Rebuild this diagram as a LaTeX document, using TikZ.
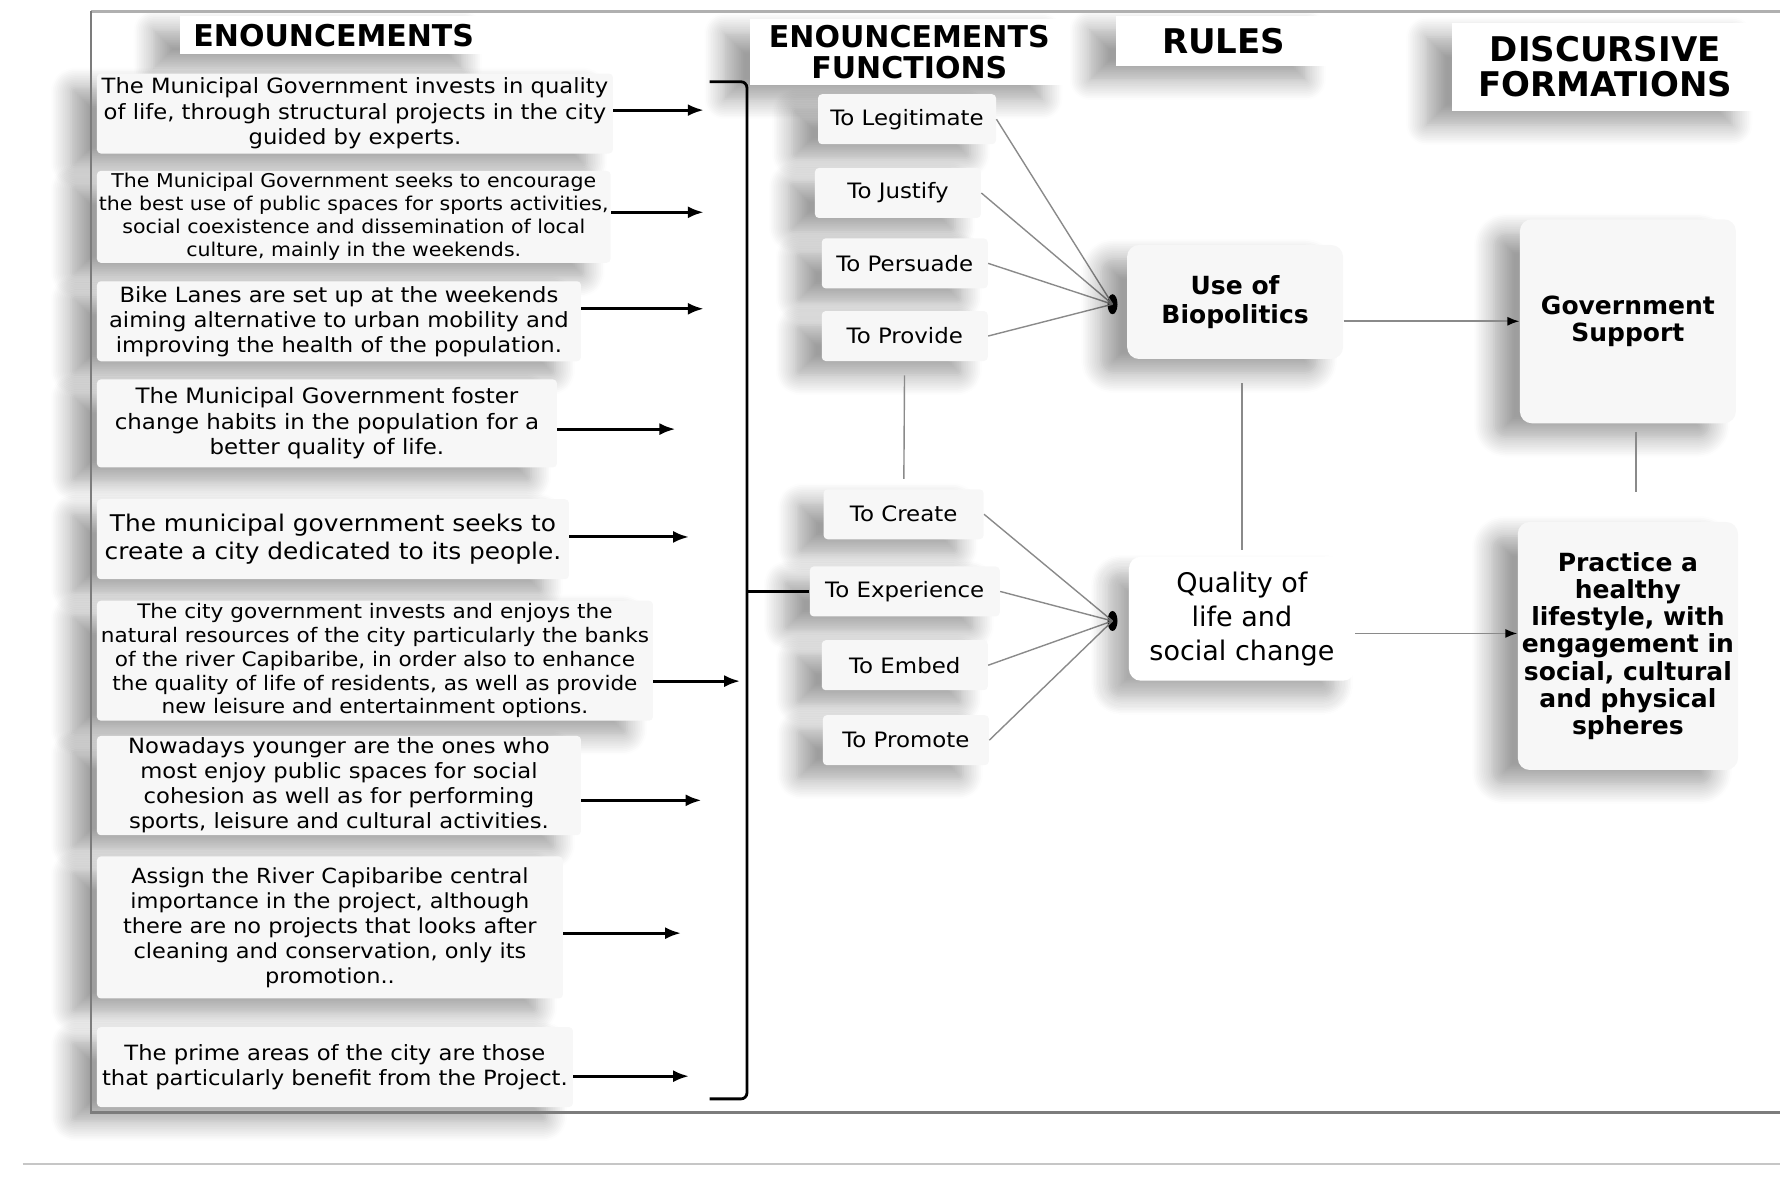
\documentclass[tikz,border=0pt]{standalone}
\usepackage{fontspec}
\setmainfont{DejaVu Sans}
\newfontfamily\enfont{DejaVu Sans}[FakeStretch=1.08]
\usetikzlibrary{positioning,arrows.meta,shadows.blur,shapes.geometric}
\definecolor{boxfill}{HTML}{F7F7F7}
\definecolor{linkgray}{HTML}{8A8A8A}
\definecolor{framegray}{HTML}{7C7C7C}
\tikzset{
  softshadow/.style={blur shadow={shadow xshift=-13pt,shadow yshift=-7pt,shadow blur radius=10pt,shadow blur steps=12,shadow opacity=38}},
  enbox/.style={fill=boxfill,rounded corners=2pt,inner sep=1pt,align=center,anchor=west,softshadow},
  headbox/.style={fill=white,inner sep=1pt,align=center,softshadow},
  funbox/.style={fill=boxfill,rounded corners=2pt,inner sep=1pt,minimum width=83pt,minimum height=25pt,
    font=\enfont\fontsize{10.6}{12}\selectfont,softshadow},
  rulebox/.style={fill=boxfill,rounded corners=6pt,inner sep=2pt,align=center,softshadow},
  hub/.style={ellipse,fill=black,inner sep=0pt,minimum width=5pt,minimum height=10pt},
  feed/.style={-{Latex[length=8pt,width=6pt]},line width=1.5pt},
  link/.style={linkgray,line width=0.7pt},
  flow/.style={linkgray,line width=0.9pt,-{Latex[black,length=6pt,width=4.5pt]}},
  brace/.style={line width=1.4pt,rounded corners=3pt},
}
\begin{document}
\begin{tikzpicture}[x=0.5675pt,y=-0.5675pt]
\useasboundingbox (0,0) rectangle (1568,1036);

% headers
\node[headbox,minimum width=154pt,minimum height=19pt,font=\fontsize{15}{16}\selectfont\bfseries] (hEn) at (294,31) {ENOUNCEMENTS};
\node[headbox,minimum width=159pt,minimum height=33pt,font=\fontsize{15}{15.3}\selectfont\bfseries] (hFun) at (801,46) {ENOUNCEMENTS\\FUNCTIONS};
\node[headbox,minimum width=108pt,minimum height=25pt,font=\fontsize{17}{18}\selectfont\bfseries] (hRul) at (1078,36) {RULES};
\node[headbox,minimum width=153pt,minimum height=44pt,font=\fontsize{17}{17.6}\selectfont\bfseries] (hDis) at (1414,59) {DISCURSIVE\\FORMATIONS};

% enouncements
\node[enbox,minimum width=258pt,minimum height=40pt,font=\enfont\fontsize{10.5}{12.8}\selectfont] (e1) at (85,100)
  {The Municipal Government invests in quality\\of life, through structural projects in the city\\guided by experts.};
\node[enbox,minimum width=256pt,minimum height=46pt,font=\enfont\fontsize{9.5}{11.5}\selectfont] (e2) at (85,191)
  {The Municipal Government seeks to encourage\\the best use of public spaces for sports activities,\\social coexistence and dissemination of local\\culture, mainly in the weekends.};
\node[enbox,minimum width=242pt,minimum height=40pt,font=\enfont\fontsize{10.5}{12.5}\selectfont] (e3) at (85,283)
  {Bike Lanes are set up at the weekends\\aiming alternative to urban mobility and\\improving the health of the population.};
\node[enbox,minimum width=230pt,minimum height=44pt,font=\enfont\fontsize{10.6}{12.8}\selectfont] (e4) at (85,373)
  {The Municipal Government foster\\change habits in the population for a\\better quality of life.};
\node[enbox,minimum width=236pt,minimum height=40pt,font=\enfont\fontsize{11.5}{13.6}\selectfont] (e5) at (85,475)
  {The municipal government seeks to\\create a city dedicated to its people.};
\node[enbox,minimum width=278pt,minimum height=60pt,font=\enfont\fontsize{10}{11.9}\selectfont] (e6) at (85,582)
  {The city government invests and enjoys the\\natural resources of the city particularly the banks\\of the river Capibaribe, in order also to enhance\\the quality of life of residents, as well as provide\\new leisure and entertainment options.};
\node[enbox,minimum width=242pt,minimum height=48pt,font=\enfont\fontsize{10.5}{12.5}\selectfont] (e7) at (85,692)
  {Nowadays younger are the ones who\\most enjoy public spaces for social\\cohesion as well as for performing\\sports, leisure and cultural activities.};
\node[enbox,minimum width=233pt,minimum height=71pt,font=\enfont\fontsize{10.4}{12.5}\selectfont] (e8) at (85,817)
  {Assign the River Capibaribe central\\importance in the project, although\\there are no projects that looks after\\cleaning and conservation, only its\\promotion..};
\node[enbox,minimum width=238pt,minimum height=40pt,font=\enfont\fontsize{10.5}{12.5}\selectfont] (e9) at (85,940)
  {The prime areas of the city are those\\that particularly benefit from the Project.};

% arrow ends at the bracket
\coordinate (b1) at (620,97);
\coordinate (b2) at (620,187);
\coordinate (b3) at (620,272);
\coordinate (b4) at (595,378);
\coordinate (b5) at (607,473);
\coordinate (b6) at (652,600);
\coordinate (b7) at (618,705);
\coordinate (b8) at (600,822);
\coordinate (b9) at (607,948);
\foreach \i in {1,...,9}
  \draw[feed] (e\i.east |- b\i) -- (b\i);

% functions
\node[funbox,minimum width=89pt] (leg) at (799,105) {To Legitimate};
\node[funbox] (jus) at (791,170) {To Justify};
\node[funbox] (per) at (797,232) {To Persuade};
\node[funbox] (pro) at (797,296) {To Provide};
\node[funbox,minimum width=80pt] (cre) at (796,453) {To Create};
\node[funbox,minimum width=95pt] (exp) at (797,521) {To Experience};
\node[funbox] (emb) at (797,586) {To Embed};
\node[funbox] (prm) at (798,652) {To Promote};

% bracket
\draw[brace] (625,72) -- (658,72) -- (658,968) -- (625,968);
\draw[brace] (658,521) -- (exp.west);

% hubs
\node[hub] (d1) at (980,268) {};
\node[hub] (d2) at (980,547) {};
\foreach \f in {leg,jus,per,pro}
  \draw[link] (\f.east) -- (d1.center);
\foreach \f in {cre,exp,emb,prm}
  \draw[link] (\f.east) -- (d2.center);
\draw[link,shorten <=7pt,shorten >=5pt] (pro) -- (cre);

% rules
\node[rulebox,minimum width=108pt,minimum height=57pt,font=\fontsize{12.5}{14.2}\selectfont\bfseries] (bio) at (1088,266) {Use of\\Biopolitics};
\node[rulebox,minimum width=113pt,minimum height=62pt,fill=white,
  blur shadow={shadow xshift=-10pt,shadow yshift=-8pt,shadow blur radius=9pt,shadow opacity=18},
  font=\fontsize{13.5}{17}\selectfont] (qual) at (1094,545) {Quality of\\life and\\social change};
\draw[link,shorten <=12pt,shorten >=3pt] (qual.north |- bio.south) -- (qual.north);

% discursive formations
\node[rulebox,minimum width=108pt,minimum height=102pt,font=\fontsize{12.5}{13.6}\selectfont\bfseries] (gov) at (1434,283) {Government\\Support};
\node[rulebox,minimum width=108pt,minimum height=124pt,font=\fontsize{12.5}{13.6}\selectfont\bfseries] (prac) at (1434,569) {Practice a\\healthy\\lifestyle, with\\engagement in\\social, cultural\\and physical\\spheres};
\draw[link,shorten <=4pt,shorten >=15pt] ([xshift=4pt]gov.south) -- ([xshift=4pt]prac.north);

\draw[flow] (bio.east |- gov.west) -- (gov.west);
\coordinate (qp) at (1200,558);
\draw[flow] (qual.east |- qp) -- (prac.west |- qp);

% frame
\draw[framegray!60,line width=1.2pt] (80,10) -- (1575,10);
\draw[framegray,line width=1.2pt] (80,10) -- (80,980) -- (1575,980);
\draw[gray!45,line width=1pt] (20,1025) -- (1568,1025);
\end{tikzpicture}
\end{document}
